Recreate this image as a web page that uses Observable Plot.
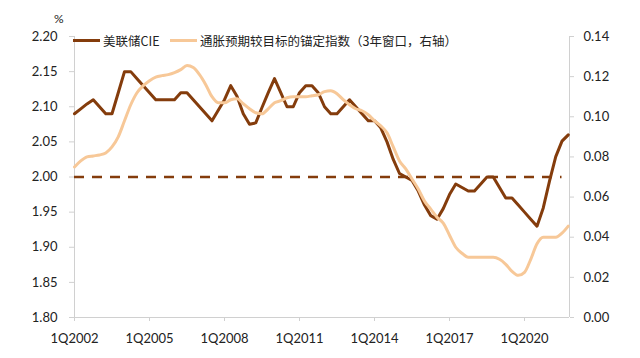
<!DOCTYPE html>
<html><head><meta charset="utf-8">
<script src="https://cdn.jsdelivr.net/npm/d3@7"></script>
<script src="https://cdn.jsdelivr.net/npm/@observablehq/plot@0.6"></script>
<style>
body{margin:0;background:#fff;}
#wrap{position:relative;width:640px;height:358px;overflow:hidden;}
.leg{position:absolute;top:31px;height:18px;font-family:"Noto Sans CJK SC";font-size:12.5px;color:#222;display:flex;align-items:center;white-space:nowrap;}
.sw{display:inline-block;width:27px;height:3px;margin-right:3px;}
.unit{position:absolute;left:54px;top:11px;font-family:Lato,"Liberation Sans";font-size:12px;color:#222;}
</style></head><body><div id="wrap"></div>
<script>
// Quarterly data, 1Q2002 .. 4Q2021
const quarters = d3.range(0, 80);
const cieValues = [
 2.09,2.097,2.104,2.11,2.10,2.09,2.09,2.12,2.15,2.15,
 2.14,2.13,2.12,2.11,2.11,2.11,2.11,2.12,2.12,2.11,
 2.10,2.09,2.08,2.095,2.11,2.13,2.115,2.09,2.075,2.077,
 2.099,2.12,2.14,2.12,2.10,2.10,2.12,2.13,2.13,2.12,
 2.10,2.09,2.09,2.10,2.11,2.10,2.09,2.08,2.08,2.07,
 2.05,2.025,2.005,2.00,1.995,1.98,1.96,1.945,1.94,1.955,
 1.975,1.99,1.985,1.98,1.98,1.99,2.00,2.00,1.985,1.97,
 1.97,1.96,1.95,1.94,1.93,1.956,1.994,2.029,2.051,2.06
];
const anchorValues = [
 0.075,0.078,0.080,0.0805,0.081,0.082,0.085,0.090,0.098,0.106,
 0.112,0.1155,0.118,0.1198,0.1205,0.121,0.122,0.1235,0.1255,0.1245,
 0.121,0.116,0.110,0.107,0.107,0.1085,0.109,0.1065,0.104,0.102,
 0.1015,0.104,0.107,0.108,0.1095,0.110,0.110,0.110,0.1105,0.111,
 0.1125,0.113,0.1115,0.1085,0.106,0.104,0.103,0.101,0.098,0.0955,
 0.092,0.085,0.078,0.074,0.069,0.064,0.058,0.054,0.050,0.047,
 0.041,0.035,0.032,0.030,0.030,0.030,0.030,0.030,0.029,0.0265,
 0.023,0.021,0.0225,0.029,0.0367,0.040,0.040,0.040,0.042,0.0455
];
const targetValue = 2.00;
const leftTicks = [1.80,1.85,1.90,1.95,2.00,2.05,2.10,2.15,2.20];
const rightTicks = [0,0.02,0.04,0.06,0.08,0.10,0.12,0.14];
const xTickIndex = [0,12,24,36,48,60,72];
const xTickLabels = ["1Q2002","1Q2005","1Q2008","1Q2011","1Q2014","1Q2017","1Q2020"];
const seriesNames = ["美联储CIE","通胀预期较目标的锚定指数（3年窗口，右轴）"];
const colors = ["#843C0C","#F7C898"];

const leftMin = 1.80, leftMax = 2.20, rightMin = 0, rightMax = 0.14;
const toLeft = v => leftMin + (v - rightMin) * (leftMax - leftMin) / (rightMax - rightMin);

const cie = quarters.map((q,i) => ({q, v: cieValues[i]}));
const anchor = quarters.map((q,i) => ({q, v: toLeft(anchorValues[i])}));

const axisColor = "#D0D0D0";
const font = "Lato, 'Liberation Sans', sans-serif";

const chart = Plot.plot({
  width: 640, height: 358,
  marginLeft: 74, marginRight: 71, marginTop: 36, marginBottom: 41,
  style: {fontFamily: font, fontSize: "13px", color: "#222", background: "#fff"},
  x: {domain: [0, 79.2], axis: null},
  y: {domain: [leftMin, leftMax], axis: null},
  marks: [
    Plot.ruleX([0], {stroke: axisColor, strokeWidth: 1}),
    Plot.ruleX([79.2], {stroke: axisColor, strokeWidth: 1}),
    Plot.ruleY([leftMin], {stroke: axisColor, strokeWidth: 1}),
    Plot.axisY({anchor: "left", label: null, ticks: leftTicks, tickFormat: d3.format(".2f"), tickSize: 5, tickPadding: 12, stroke: axisColor, fontSize: 13}),
    Plot.axisY({anchor: "right", label: null, ticks: rightTicks.map(toLeft), tickFormat: (d,i) => d3.format(".2f")(rightTicks[i]), tickSize: 4, tickPadding: 10, stroke: axisColor, fontSize: 13}),
    Plot.axisX({label: null, ticks: xTickIndex, tickFormat: (d,i) => xTickLabels[i], tickSize: 4, tickPadding: 12, stroke: axisColor, fontSize: 13}),
    Plot.ruleY([targetValue], {x1: 0, x2: 78, stroke: colors[0], strokeWidth: 2.5, strokeDasharray: "10,8"}),
    Plot.line(cie, {x: "q", y: "v", stroke: colors[0], strokeWidth: 3, strokeLinejoin: "round"}),
    Plot.line(anchor, {x: "q", y: "v", stroke: colors[1], strokeWidth: 3, curve: "monotone-x"})
  ]
});
const wrap = document.getElementById("wrap");
wrap.appendChild(chart);

const unit = document.createElement("div");
unit.className = "unit"; unit.textContent = "%";
wrap.appendChild(unit);

const legLefts = [73, 170];
seriesNames.forEach((name, i) => {
  const d = document.createElement("div");
  d.className = "leg"; d.style.left = legLefts[i] + "px";
  const s = document.createElement("span");
  s.className = "sw"; s.style.background = colors[i];
  d.appendChild(s);
  d.appendChild(document.createTextNode(name));
  wrap.appendChild(d);
});
</script></body></html>
